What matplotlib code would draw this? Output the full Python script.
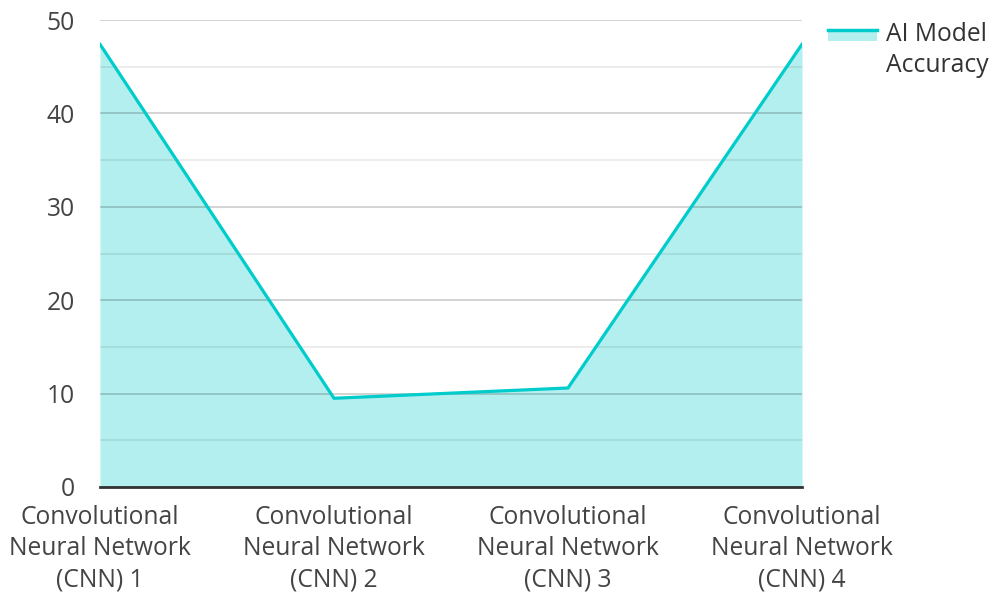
import matplotlib.pyplot as plt
from matplotlib.lines import Line2D
from matplotlib.patches import Rectangle

plt.rcParams['font.family'] = ['Open Sans', 'DejaVu Sans']

categories = ['Convolutional\nNeural Network\n(CNN) 1',
              'Convolutional\nNeural Network\n(CNN) 2',
              'Convolutional\nNeural Network\n(CNN) 3',
              'Convolutional\nNeural Network\n(CNN) 4']
accuracy = [47.4, 9.5, 10.6, 47.4]
series_name = 'AI Model\nAccuracy'

line_col = '#00cccc'
fill_col = '#b2efee'
txt_col = '#444444'
fs = 17.7


class AreaHandler:
    # line on top, light area patch just under it
    def legend_artist(self, legend, orig_handle, fontsize, handlebox):
        x0, y0 = handlebox.xdescent, handlebox.ydescent
        w, h = handlebox.width, handlebox.height
        yl = y0 + h + 0.5 * fontsize
        rect = Rectangle((x0, yl - 0.45 * fontsize), w, 0.45 * fontsize,
                         facecolor=fill_col, edgecolor='none',
                         transform=handlebox.get_transform())
        ln = Line2D([x0, x0 + w], [yl, yl], color=line_col, lw=2.5,
                    transform=handlebox.get_transform())
        handlebox.add_artist(rect)
        handlebox.add_artist(ln)
        return ln


fig = plt.figure(figsize=(9.92, 5.92), dpi=100)
ax = fig.add_axes([100/992, 105/592, 702/992, 467/592])

x = list(range(len(categories)))
ax.fill_between(x, accuracy, 0, color=fill_col, zorder=1, lw=0)
ax.plot(x, accuracy, color=line_col, lw=2.3, zorder=3)

ax.set_xlim(0, len(categories) - 1)
ax.set_ylim(0, 50)
ax.set_yticks(range(0, 51, 10))
ax.set_yticks(range(5, 50, 10), minor=True)
ax.grid(which='major', axis='y', color='black', alpha=0.2, lw=1.2, zorder=2)
ax.grid(which='minor', axis='y', color='black', alpha=0.09, lw=1.2, zorder=2)
ax.set_axisbelow(False)

ax.set_xticks(x)
ax.set_xticklabels(categories, fontsize=fs, color=txt_col, linespacing=1.33)
ax.tick_params(axis='both', which='both', length=0, labelsize=fs, labelcolor=txt_col)
ax.tick_params(axis='y', pad=18)
ax.tick_params(axis='x', pad=13)

for s in ['top', 'right', 'left']:
    ax.spines[s].set_visible(False)
ax.spines['bottom'].set_color('#333333')
ax.spines['bottom'].set_linewidth(2)
ax.spines['bottom'].set_zorder(4)

leg = ax.legend(['area'], [series_name], loc='upper left', bbox_to_anchor=(1.037, 0.996),
                frameon=False, fontsize=fs, handlelength=2.0, handletextpad=0.36,
                borderpad=0, borderaxespad=0,
                handler_map={str: AreaHandler()})
for t in leg.get_texts():
    t.set_color('#333333')
    t.set_linespacing(1.33)

fig.savefig('out.png', dpi=100)
